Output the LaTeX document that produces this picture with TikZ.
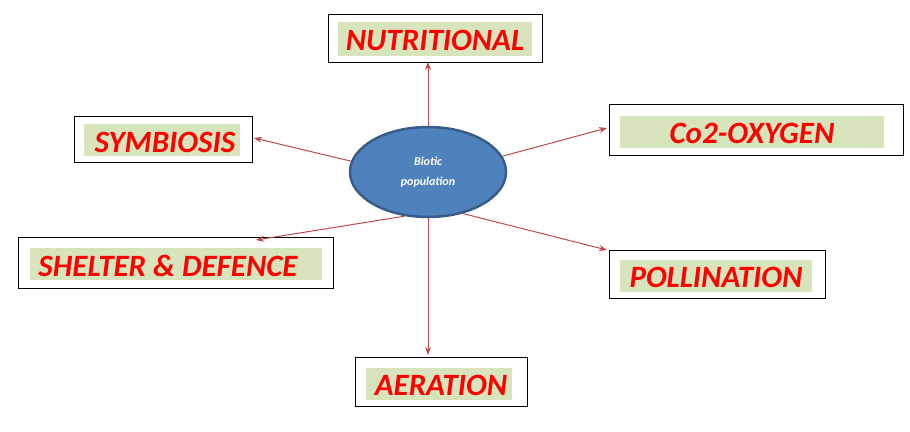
\documentclass[tikz,border=0pt]{standalone}
\usepackage{fontspec}
\setmainfont{Carlito}
\usetikzlibrary{shapes.geometric,arrows.meta}
\definecolor{gr}{HTML}{D7E4BC}
\definecolor{bl}{HTML}{4F81BD}
\definecolor{bd}{HTML}{385D8A}
\definecolor{ar}{HTML}{BE4B48}
\begin{document}
\begin{tikzpicture}[x=1pt,y=-1pt,
  outer/.style={draw=black,fill=white,line width=0.9pt},
  inner/.style={fill=gr,draw=none},
  lbl/.style={text=red,font=\fontsize{31}{34}\selectfont\bfseries\itshape},
  arr/.style={draw=ar,line width=1pt,-{Stealth[length=8pt,width=6pt]}}]
\useasboundingbox (0,0) rectangle (910,431);
% boxes
\draw[outer] (328,14) rectangle (542,62); \fill[inner] (338,22) rectangle (532,56);
\node[lbl] (nut) at (435,40) {NUTRITIONAL};
\draw[outer] (74,116) rectangle (252,162); \fill[inner] (84,124) rectangle (240,156);
\node[lbl] (sym) at (165,142) {SYMBIOSIS};
\draw[outer] (609,104) rectangle (903,155); \fill[inner] (620,116) rectangle (884,148);
\node[lbl] (co2) at (752,133) {Co2-OXYGEN};
\draw[outer] (18,237) rectangle (333,288); \fill[inner] (30,248) rectangle (322,280);
\node[lbl] (she) at (168,266) {SHELTER \& DEFENCE};
\draw[outer] (609,250) rectangle (825,298); \fill[inner] (620,260) rectangle (812,292);
\node[lbl] (pol) at (716,277) {POLLINATION};
\draw[outer] (355,357) rectangle (527,406); \fill[inner] (366,368) rectangle (512,400);
\node[lbl] (aer) at (441,385) {AERATION};
% ellipse
\node[ellipse,draw=bd,line width=2.5pt,fill=bl,minimum width=156pt,minimum height=90pt,
  text=white,font=\fontsize{12}{14}\selectfont\bfseries\itshape,align=center] (bio) at (428,172) {Biotic\\[6pt]population};
\coordinate (a1) at (428,62); \coordinate (a2) at (254,138); \coordinate (a3) at (607,128);
\coordinate (a4) at (256,240); \coordinate (a5) at (607,250); \coordinate (a6) at (428,355);
\draw[arr] (bio.north) -- (a1);
\draw[arr] (bio.172) -- (a2);
\draw[arr] (bio.12) -- (a3);
\draw[arr] (bio.-118) -- (a4);
\draw[arr] (bio.-50) -- (a5);
\draw[arr] (bio.south) -- (a6);
\end{tikzpicture}
\end{document}
